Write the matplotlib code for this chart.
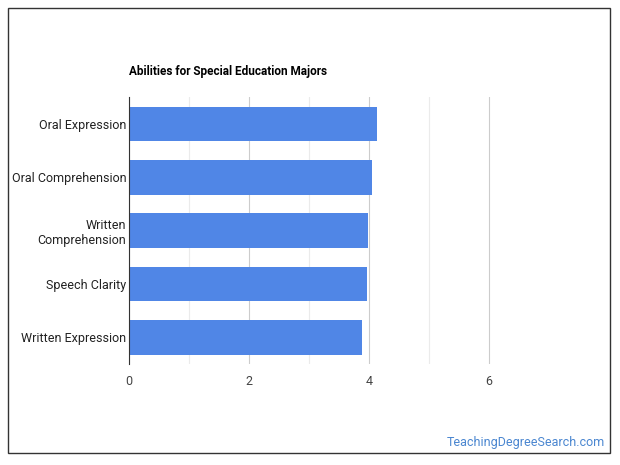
import matplotlib.pyplot as plt
from matplotlib.patches import Rectangle

plt.rcParams['font.family'] = ['Roboto', 'DejaVu Sans']

abilities = ["Oral Expression", "Oral Comprehension", "Written\nComprehension",
             "Speech Clarity", "Written Expression"]
scores = [4.13, 4.05, 3.98, 3.97, 3.88]

fig = plt.figure(figsize=(6.2, 4.65), dpi=100)
ax = fig.add_axes([0.208, 0.217, 0.677, 0.574])

pos = list(range(len(abilities)))
ax.barh(pos, scores, height=0.65, color='#5086e6', zorder=3)
ax.set_yticks(pos)
ax.set_yticklabels(abilities, fontsize=9, color='#222222')
ax.invert_yaxis()
ax.set_ylim(4.5, -0.5)
ax.set_xlim(0, 7)
ax.set_xticks([0, 2, 4, 6])
ax.set_xticks([1, 3, 5], minor=True)
ax.tick_params(axis='x', labelsize=9, colors='#444444', length=0, pad=8, which='both')
ax.tick_params(axis='y', length=0, pad=2)
ax.grid(axis='x', which='major', color='#cccccc', linewidth=0.8, zorder=0)
ax.grid(axis='x', which='minor', color='#ebebeb', linewidth=0.8, zorder=0)
for s in ['top', 'right', 'bottom']:
    ax.spines[s].set_visible(False)
ax.spines['left'].set_color('#333333')
ax.spines['left'].set_zorder(4)

fig.text(129 / 620, 1 - 71 / 465, "Abilities for Special Education Majors",
         fontsize=8.5, fontweight='bold', va='center', ha='left')
fig.text(605 / 620, 1 - 442 / 465, "TeachingDegreeSearch.com",
         fontsize=9, color='#4a86d0', va='center', ha='right')
fig.patches.append(Rectangle((8 / 620, 1 - 453 / 465), 602 / 620, 445 / 465,
                             transform=fig.transFigure, fill=False,
                             edgecolor='#333333', linewidth=1))

fig.savefig('out.png', dpi=100)
